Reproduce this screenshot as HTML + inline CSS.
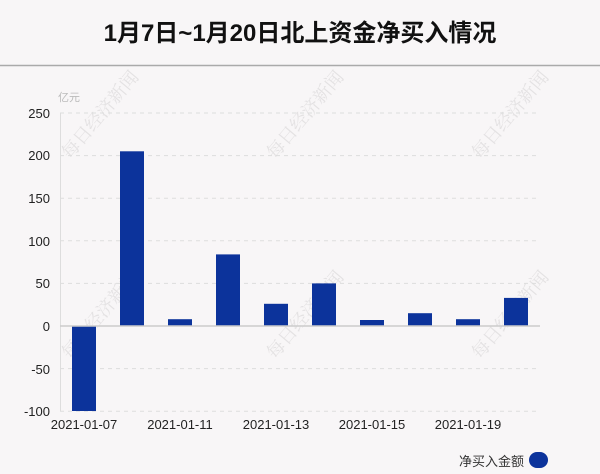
<!DOCTYPE html>
<html><head><meta charset="utf-8"><style>
body{margin:0;background:#f8f6f7;}
svg{display:block;font-family:"Liberation Sans","Noto Sans CJK SC",sans-serif;}
</style></head><body>
<svg width="600" height="474" viewBox="0 0 600 474">
<rect width="600" height="474" fill="#f8f6f7"/>
<text x="300" y="41" text-anchor="middle" font-size="24" font-weight="bold" fill="#111">1月7日~1月20日北上资金净买入情况</text>
<line x1="0" y1="65.5" x2="600" y2="65.5" stroke="#aaa" stroke-width="1.5"/>
<g fill="#e4e2e3" font-size="18" font-family="'Noto Serif CJK SC',serif">
<text transform="translate(70,160) rotate(-50)">每日经济新闻</text>
<text transform="translate(275,160) rotate(-50)">每日经济新闻</text>
<text transform="translate(480,160) rotate(-50)">每日经济新闻</text>
<text transform="translate(70,360) rotate(-50)">每日经济新闻</text>
<text transform="translate(275,360) rotate(-50)">每日经济新闻</text>
<text transform="translate(480,360) rotate(-50)">每日经济新闻</text>
</g>
<text x="58" y="101" font-size="11" fill="#bbb">亿元</text>
<g stroke="#ddd" stroke-dasharray="4,4">
<line x1="60" y1="113" x2="540" y2="113"/><line x1="60" y1="155.6" x2="540" y2="155.6"/>
<line x1="60" y1="198.2" x2="540" y2="198.2"/><line x1="60" y1="240.8" x2="540" y2="240.8"/>
<line x1="60" y1="283.4" x2="540" y2="283.4"/><line x1="60" y1="368.6" x2="540" y2="368.6"/>
<line x1="60" y1="411.2" x2="540" y2="411.2"/>
</g>
<line x1="60.5" y1="113" x2="60.5" y2="411" stroke="#ddd"/>
<g font-size="13" fill="#222" text-anchor="end">
<text x="50" y="118">250</text><text x="50" y="160">200</text><text x="50" y="203">150</text>
<text x="50" y="246">100</text><text x="50" y="288">50</text><text x="50" y="331">0</text>
<text x="50" y="374">-50</text><text x="50" y="416">-100</text>
</g>
<g fill="#0c339b">
<rect x="72" y="326" width="24" height="85"/>
<rect x="120" y="151.3" width="24" height="174.7"/>
<rect x="168" y="319.2" width="24" height="6.8"/>
<rect x="216" y="254.4" width="24" height="71.6"/>
<rect x="264" y="303.8" width="24" height="22.2"/>
<rect x="312" y="283.4" width="24" height="42.6"/>
<rect x="360" y="320" width="24" height="6"/>
<rect x="408" y="313.2" width="24" height="12.8"/>
<rect x="456" y="319.2" width="24" height="6.8"/>
<rect x="504" y="297.9" width="24" height="28.1"/>
</g>
<line x1="60" y1="326" x2="540" y2="326" stroke="#ccc" stroke-width="1.5"/>
<g font-size="13" fill="#222" text-anchor="middle">
<text x="84" y="429">2021-01-07</text><text x="180" y="429">2021-01-11</text>
<text x="276" y="429">2021-01-13</text><text x="372" y="429">2021-01-15</text>
<text x="468" y="429">2021-01-19</text>
</g>
<text x="524" y="466" text-anchor="end" font-size="13" fill="#333">净买入金额</text>
<rect x="529" y="452" width="19" height="16" rx="8" fill="#0c339b"/>
</svg>
</body></html>
